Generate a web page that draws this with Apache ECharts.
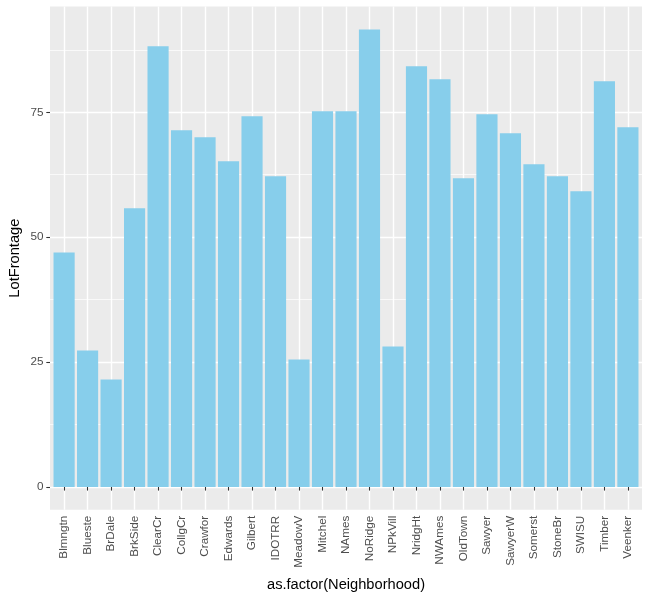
<!DOCTYPE html>
<html>
<head>
<meta charset="utf-8">
<script src="https://cdn.jsdelivr.net/npm/echarts@6/dist/echarts.min.js"></script>
<style>html,body{margin:0;padding:0;background:#fff}#c{width:650px;height:600px}</style>
</head>
<body>
<div id="c"></div>
<script>
const categories = ['Blmngtn','Blueste','BrDale','BrkSide','ClearCr','CollgCr','Crawfor','Edwards','Gilbert','IDOTRR','MeadowV','Mitchel','NAmes','NoRidge','NPkVill','NridgHt','NWAmes','OldTown','Sawyer','SawyerW','Somerst','StoneBr','SWISU','Timber','Veenker'];
const lotFrontage = [46.95,27.3,21.5,55.8,88.2,71.4,70.0,65.2,74.2,62.2,25.5,75.2,75.2,91.6,28.1,84.2,81.6,61.8,74.6,70.8,64.6,62.2,59.2,81.2,72.0];
const yTicks = [0,25,50,75];
const yMinorTicks = [12.5,37.5,62.5,87.5];

const FONT = 'Liberation Sans, Arial, sans-serif';
const panelLeft = 50, panelRight = 642, panelTop = 6.5, panelBottom = 509.75;
const panelW = panelRight - panelLeft, panelH = panelBottom - panelTop;
const yMin = -4.58, yMax = 96.18;
const n = categories.length;
const unit = panelW / (n - 1 + 1.2);
const dataLeft = panelLeft + 0.6 * unit;
const dataW = (n - 1) * unit;

const chart = echarts.init(document.getElementById('c'));
chart.setOption({
  animation: false,
  backgroundColor: '#ffffff',
  grid: [
    {left: panelLeft, top: panelTop, width: panelW, height: panelH, show: true, backgroundColor: '#EBEBEB', borderWidth: 0, containLabel: false},
    {left: dataLeft, top: panelTop, width: dataW, height: panelH, containLabel: false}
  ],
  xAxis: [
    {gridIndex: 0, type: 'value', show: false},
    {gridIndex: 1, type: 'category', data: categories, boundaryGap: false,
     axisLine: {show: false},
     axisTick: {show: true, length: 3.7, lineStyle: {color: '#333333', width: 1.07}},
     axisLabel: {rotate: 90, color: '#4D4D4D', fontSize: 11.7, fontFamily: FONT, margin: 6, interval: 0},
     splitLine: {show: true, lineStyle: {color: '#ffffff', width: 1.4}}
    }
  ],
  yAxis: [
    {gridIndex: 0, type: 'value', min: yMin, max: yMax, position: 'left',
     axisLine: {show: false},
     axisTick: {show: true, length: 3.7, lineStyle: {color: '#333333', width: 1.07}, customValues: yTicks},
     axisLabel: {color: '#4D4D4D', fontSize: 11.7, fontFamily: FONT, margin: 6.5, customValues: yTicks},
     splitLine: {show: true, lineStyle: {color: '#ffffff', width: 1.4}}
    },
    {gridIndex: 0, type: 'value', min: yMin, max: yMax, position: 'left', offset: 0,
     axisLine: {show: false},
     axisTick: {show: false, customValues: yMinorTicks},
     axisLabel: {show: false, customValues: yMinorTicks},
     splitLine: {show: true, lineStyle: {color: '#ffffff', width: 0.7}}
    },
    {gridIndex: 1, type: 'value', min: yMin, max: yMax, show: false, splitLine: {show: false}}
  ],
  series: [{
    type: 'bar', xAxisIndex: 1, yAxisIndex: 2,
    data: lotFrontage,
    barWidth: 0.9 * unit,
    clip: false,
    itemStyle: {color: '#87CEEB'},
    z: 3
  }],
  graphic: [
    {type: 'text', x: panelLeft + panelW / 2, y: 585,
     style: {text: 'as.factor(Neighborhood)', fill: '#000000', font: '14.67px ' + FONT, textAlign: 'center', textVerticalAlign: 'middle'}},
    {type: 'text', x: 14.5, y: (panelTop + panelBottom) / 2, rotation: Math.PI / 2,
     style: {text: 'LotFrontage', fill: '#000000', font: '14.67px ' + FONT, textAlign: 'center', textVerticalAlign: 'middle'}}
  ]
});
</script>
</body>
</html>
